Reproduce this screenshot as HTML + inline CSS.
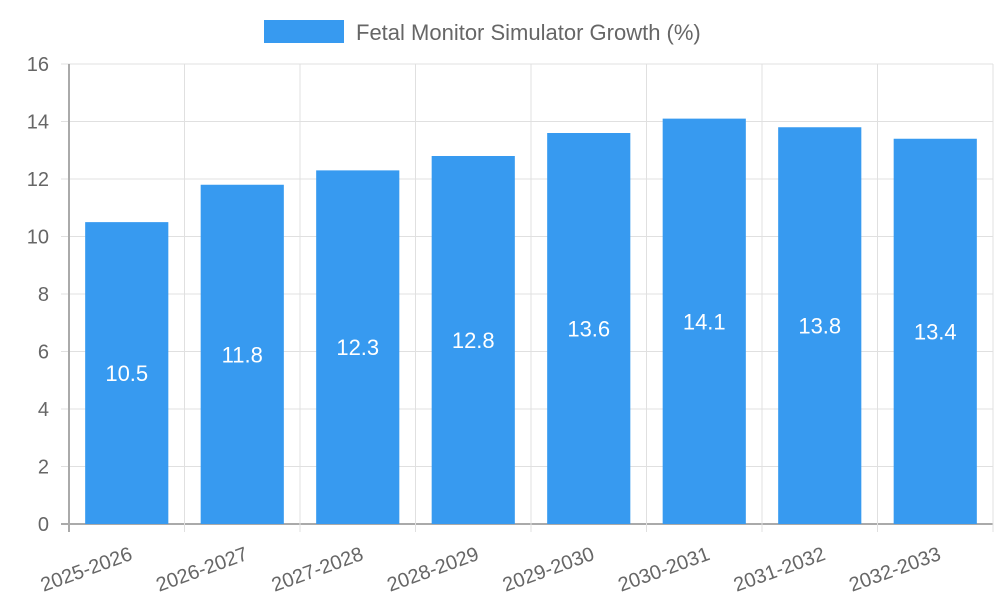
<!DOCTYPE html>
<html><head><meta charset="utf-8"><style>
body{margin:0;background:#fff;width:1000px;height:600px;overflow:hidden}
text{font-family:"Liberation Sans",sans-serif}
</style></head><body>
<svg id="chart" width="1000" height="600" xmlns="http://www.w3.org/2000/svg">
<g id="legend">
<rect x="264" y="20" width="80" height="23" fill="#379af0"/>
<text x="356" y="40" font-size="22" fill="#666">Fetal Monitor Simulator Growth (%)</text>
</g>
<g id="grid"></g><g id="bars"></g><g id="axes"></g>
</svg>
<script>
const categories=["2025-2026","2026-2027","2027-2028","2028-2029","2029-2030","2030-2031","2031-2032","2032-2033"];
const values=[10.5,11.8,12.3,12.8,13.6,14.1,13.8,13.4];
const yTicks=[0,2,4,6,8,10,12,14,16];
const NS="http://www.w3.org/2000/svg";
const L=69,R=993,T=64,B=524,yMax=16;
const bw=(R-L)/categories.length;
const y=v=>B-(v/yMax)*(B-T);
const x=i=>L+bw*i;
function mk(tag,attrs,parent,txt){const e=document.createElementNS(NS,tag);for(const k in attrs)e.setAttribute(k,attrs[k]);if(txt!==undefined)e.textContent=txt;document.getElementById(parent).appendChild(e);return e;}
yTicks.forEach(t=>{
 const g=mk("line",{x1:L-8,x2:R,y1:y(t),y2:y(t),stroke:t===0?"#aaa":"#e0e0e0","stroke-width":t===0?2:1},"grid");
 
 
 const l=mk("text",{x:L-20,y:y(t)+7,"text-anchor":"end","font-size":20,fill:"#666"},"axes",t);
 
 
});
for(let i=0;i<=categories.length;i++){
 const g=mk("line",{x1:x(i),x2:x(i),y1:T,y2:B+8,stroke:i===0?"#aaa":"#e0e0e0","stroke-width":i===0?2:1},"grid");
 
 
}
categories.forEach((c,i)=>{
 const cx=x(i)+bw/2,w=bw*0.72;
 const r=mk("rect",{x:cx-w/2,y:y(values[i]),width:w,height:B-y(values[i]),fill:"#379af0"},"bars");
 
 
 const v=mk("text",{x:cx,y:(y(values[i])+B)/2+8,"text-anchor":"middle","font-size":22,fill:"#fff"},"bars",values[i]);
 
 
 const t=mk("text",{transform:`translate(${cx+2},${B+22}) rotate(-20)`,"text-anchor":"end","font-size":20,fill:"#666",dy:14},"axes",c);
 
 
});
</script>
</body></html>
